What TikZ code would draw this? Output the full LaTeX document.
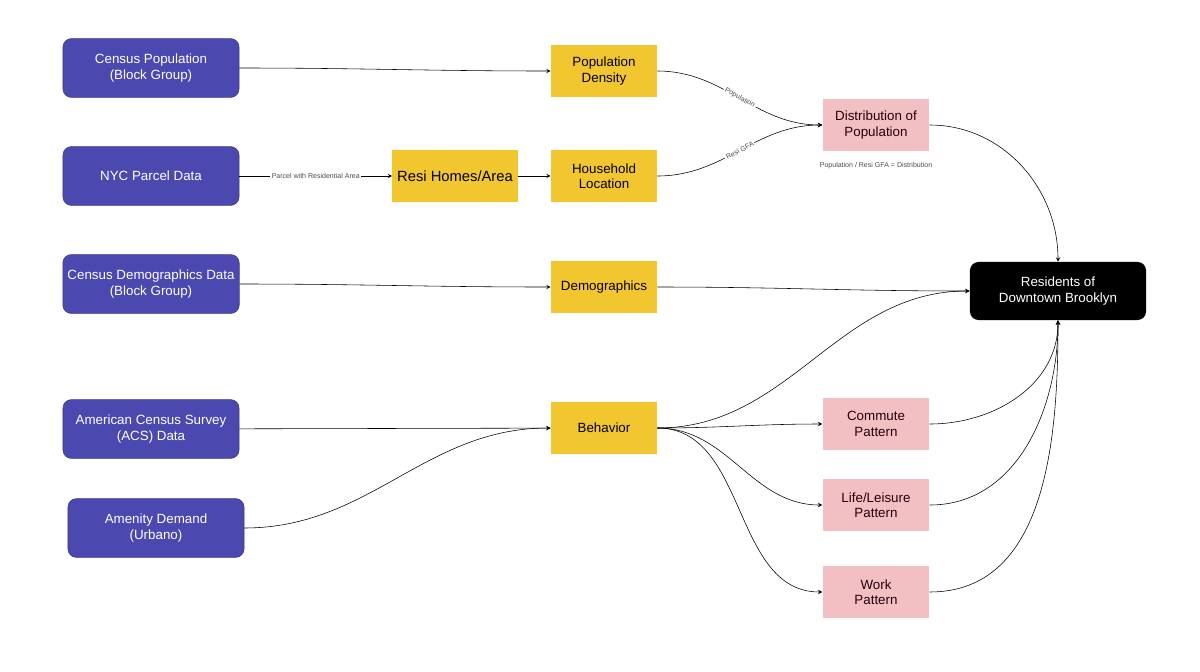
\documentclass[tikz,border=0pt]{standalone}
\usepackage{fontspec}
\setmainfont{Liberation Sans}
\usetikzlibrary{arrows,positioning}
\definecolor{sourceblue}{HTML}{4B48B0}
\definecolor{stepyellow}{HTML}{F2C62F}
\definecolor{outpink}{HTML}{F2BFC2}
\begin{document}
\begin{tikzpicture}[x=0.025cm, y=-0.025cm, >=stealth,
      source/.style={draw=sourceblue!80!black,fill=sourceblue,text=white,rounded corners=6pt,minimum width=4.4cm,minimum height=1.47cm,align=center,font=\fontsize{9.5}{11}\selectfont},
      process/.style={fill=stepyellow,minimum width=2.65cm,minimum height=1.32cm,align=center,font=\fontsize{9.5}{11}\selectfont},
      outcome/.style={fill=outpink,minimum width=2.67cm,minimum height=1.32cm,align=center,text=black!80!purple,font=\fontsize{9.5}{11}\selectfont},
      edgelabel/.style={font=\fontsize{5}{6}\selectfont,text=black!70,fill=white,inner sep=1pt},
      link/.style={->,thin}]
      \useasboundingbox (0,0) rectangle (1200,671);
      \node[source] (censuspop) at (151,68) {Census Population\\(Block Group)};
      \node[source] (parcel) at (151,176) {NYC Parcel Data};
      \node[source] (censusdemo) at (151,284) {Census Demographics Data\\(Block Group)};
      \node[source] (acs) at (151,429) {American Census Survey\\(ACS) Data};
      \node[source] (amenity) at (156,528) {Amenity Demand\\(Urbano)};
      \node[process] (density) at (604,71) {Population\\Density};
      \node[process] (resihomes) at (455,176) {\fontsize{10.5}{12}\selectfont Resi Homes/Area};
      \node[process] (household) at (604,176) {Household\\Location};
      \node[process] (demographics) at (604,287) {Demographics};
      \node[process] (behavior) at (604,428) {Behavior};
      \node[outcome] (distribution) at (876,125) {Distribution of\\Population};
      \node[font=\fontsize{5}{6}\selectfont,text=black!70] (formula) at (876,166) {Population / Resi GFA = Distribution};
      \node[outcome] (commute) at (876,424) {Commute\\Pattern};
      \node[outcome] (leisure) at (876,505) {Life/Leisure\\Pattern};
      \node[outcome] (work) at (876,592) {Work\\Pattern};
      \node[fill=black,text=white,rounded corners=6pt,minimum width=4.4cm,minimum height=1.45cm,align=center,font=\fontsize{9.5}{11}\selectfont] (residents) at (1058,291) {Residents of\\Downtown Brooklyn};
      % sources to steps
      \draw[link] (censuspop.east) to[out=0,in=180] (density.west);
      \draw[link] (parcel) -- node[edgelabel]{Parcel with Residential Area} (resihomes);
      \draw[link] (resihomes) -- (household);
      \draw[link] (censusdemo.east) to[out=0,in=180] (demographics.west);
      \draw[link] (acs) -- (behavior);
      \draw[link] (amenity.east) to[out=0,in=180] (behavior.west);
      % steps to outcomes
      \draw[link] (density.east) to[out=0,in=180] node[edgelabel,sloped]{Population} (distribution.west);
      \draw[link] (household.east) to[out=0,in=180] node[edgelabel,sloped]{Resi GFA} (distribution.west);
      \draw[link] (behavior.east) to[out=0,in=180] (commute.west);
      \draw[link] (behavior.east) to[out=0,in=180] (leisure.west);
      \draw[link] (behavior.east) to[out=0,in=180] (work.west);
      % outcomes to residents
      \draw[link] (distribution.east) to[out=0,in=90] (residents.north);
      \draw[link] (demographics.east) to[out=0,in=180] (residents.west);
      \draw[link] (behavior.east) to[out=0,in=180] (residents.west);
      \draw[link] (commute.east) to[out=0,in=270] (residents.south);
      \draw[link] (leisure.east) to[out=0,in=270] (residents.south);
      \draw[link] (work.east) to[out=0,in=270] (residents.south);
\end{tikzpicture}
\end{document}
